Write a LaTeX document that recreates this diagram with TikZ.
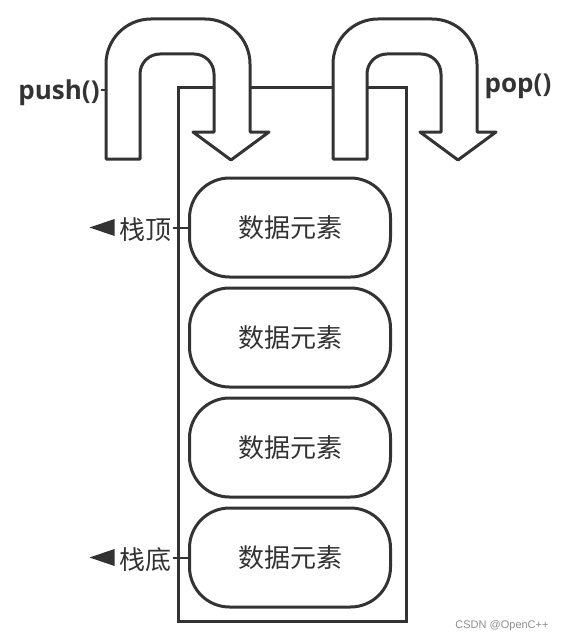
\documentclass[tikz,border=0pt]{standalone}
\usepackage{fontspec}
\setmainfont{Open Sans}
\newfontfamily\cjk{Noto Sans CJK SC}
\newfontfamily\wmfont{Liberation Sans}
\definecolor{ink}{HTML}{333333}
\tikzset{
  uturn/.pic={
    \draw[ink, line width=3pt, fill=white, line join=round]
      (0,140) -- (0,45) arc[start angle=180,end angle=270,radius=45] -- (99,0)
      arc[start angle=270,end angle=360,radius=45] -- (144,113) -- (163,113) -- (125,141)
      -- (87,113) -- (108,113) -- (108,55) arc[start angle=0,end angle=-90,radius=20]
      -- (54,35) arc[start angle=-90,end angle=-180,radius=20] -- (34,140) -- cycle;
  }
}
\begin{document}
\begin{tikzpicture}[x=1pt, y=-1pt, ink, line width=3pt,
  elem/.style={draw, rounded corners=40pt, minimum width=201pt, minimum height=99pt, font=\cjk\fontsize{26}{26}\selectfont},
  side/.style={inner sep=0pt, font=\cjk\fontsize{26}{26}\selectfont},
  lbl/.style={inner sep=0pt, font=\bfseries\fontsize{26}{26}\selectfont}]
\useasboundingbox (0,0) rectangle (567,642);
\node [draw, minimum width=228pt, minimum height=534pt, inner sep=0pt](stack) at (292,354) {};
\pic at (106,19) {uturn};
\pic at (333,19) {uturn};
\foreach \i/\y in {1/227.5,2/337.5,3/447.5,4/557.5}
  \node [elem](e\i) at (290,\y) {数据元素};
\node [lbl](push) at (59,93) {push()};
\node [lbl](pop) at (518,86) {pop()};
\coordinate (pushin) at (106,90);
\node [side](top) at (145,230) {栈顶};
\node [side](bottom) at (145,560) {栈底};
\begin{scope}[line width=2pt]
\draw (push.east |- pushin) -- (pushin);
\draw (top.east |- e1.west) -- (e1.west);
\draw (bottom.east |- e4.west) -- (e4.west);
\end{scope}
\fill ([xshift=-3pt]top.west |- e1.west) -- ++(0,-8.5) -- ++(-25,8.5) -- ++(25,8.5) -- cycle;
\fill ([xshift=-3pt]bottom.west |- e4.west) -- ++(0,-8.5) -- ++(-25,8.5) -- ++(25,8.5) -- cycle;
\node [text=black!45, font=\wmfont\fontsize{11}{11}\selectfont](mark) at (502,626) {CSDN @OpenC++};
\end{tikzpicture}
\end{document}
